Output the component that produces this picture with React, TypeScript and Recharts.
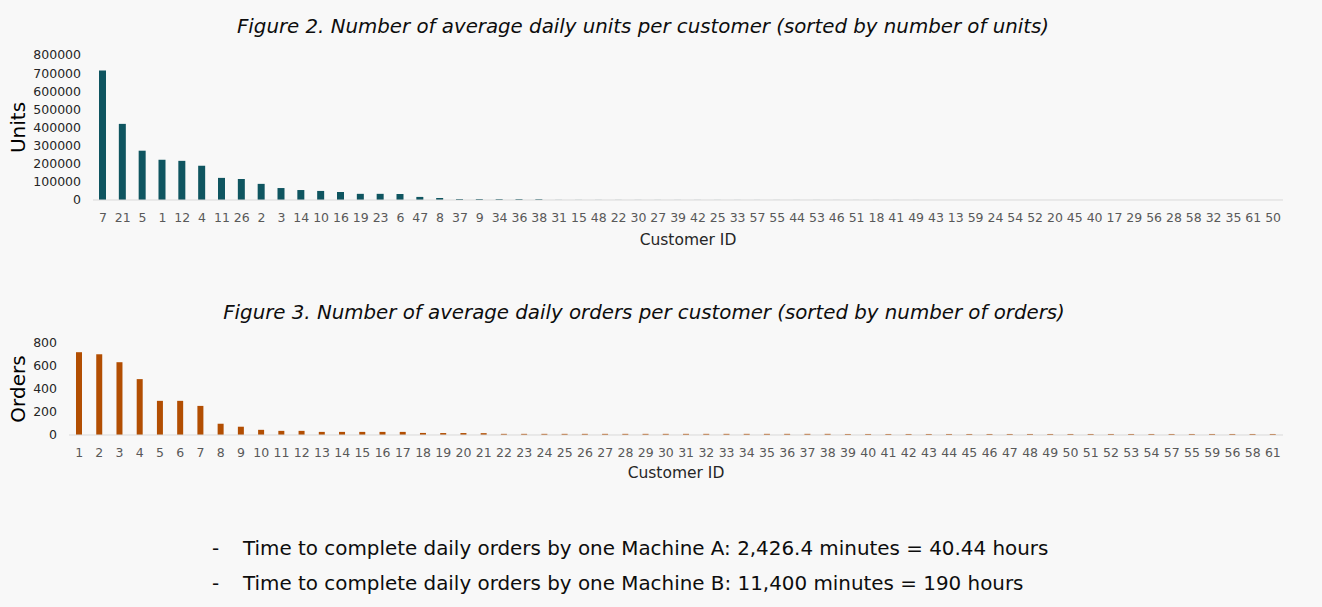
import React from "react";
import { BarChart, Bar, XAxis, YAxis } from "recharts";

// Figure 2: customers sorted by average daily units
const unitCustomers = [
  "7", "21", "5", "1", "12", "4", "11", "26", "2", "3",
  "14", "10", "16", "19", "23", "6", "47", "8", "37", "9",
  "34", "36", "38", "31", "15", "48", "22", "30", "27", "39",
  "42", "25", "33", "57", "55", "44", "53", "46", "51", "18",
  "41", "49", "43", "13", "59", "24", "54", "52", "20", "45",
  "40", "17", "29", "56", "28", "58", "32", "35", "61", "50",
];
const unitValues = [
  715000, 420000, 272000, 222000, 216000, 189000, 122000, 116000, 89000, 66000,
  55000, 50000, 44000, 34000, 34000, 33000, 17000, 11000, 5500, 5500,
  5000, 5000, 4500, 600, 550, 500, 480, 450, 420, 400,
  380, 360, 340, 320, 300, 280, 260, 240, 220, 200,
  190, 180, 170, 160, 150, 140, 130, 120, 110, 100,
  90, 80, 70, 60, 55, 50, 45, 40, 35, 30,
];
const unitTicks = [0, 100000, 200000, 300000, 400000, 500000, 600000, 700000, 800000];

// Figure 3: customers sorted by average daily orders
const orderCustomers = [
  "1", "2", "3", "4", "5", "6", "7", "8", "9", "10",
  "11", "12", "13", "14", "15", "16", "17", "18", "19", "20",
  "21", "22", "23", "24", "25", "26", "27", "28", "29", "30",
  "31", "32", "33", "34", "35", "36", "37", "38", "39", "40",
  "41", "42", "43", "44", "45", "46", "47", "48", "49", "50",
  "51", "52", "53", "54", "57", "55", "59", "56", "58", "61",
];
const orderValues = [
  720, 702, 633, 486, 297, 297, 253, 98, 72, 45,
  36, 36, 27, 27, 27, 27, 27, 18, 17, 17,
  16, 10, 10, 10, 10, 10, 10, 10, 10, 10,
  10, 10, 10, 10, 10, 10, 10, 10, 9, 9,
  9, 9, 9, 9, 9, 9, 9, 9, 9, 9,
  9, 9, 9, 9, 9, 9, 9, 9, 9, 9,
];
const orderTicks = [0, 200, 400, 600, 800];

const notes = [
  "Time to complete daily orders by one Machine A: 2,426.4 minutes = 40.44 hours",
  "Time to complete daily orders by one Machine B: 11,400 minutes = 190 hours",
];

const FONT = "'DejaVu Sans', Verdana, sans-serif";
const TEAL = "#0f5560";
const RUST = "#b24e02";

const unitData = unitCustomers.map((id, i) => ({ id, units: unitValues[i] }));
const orderData = orderCustomers.map((id, i) => ({ id, orders: orderValues[i] }));

const xTick = { fill: "#595959", fontSize: 12.5, fontFamily: FONT };
const yTick = { fill: "#262626", fontSize: 12.5, fontFamily: FONT };

function Title({ text, cx, cy }: { text: string; cx: number; cy: number }) {
  return (
    <div
      style={{
        position: "absolute",
        left: cx,
        top: cy - 12,
        transform: "translateX(-50%)",
        whiteSpace: "nowrap",
        fontFamily: FONT,
        fontStyle: "italic",
        fontSize: 19.8,
        lineHeight: "24px",
        color: "#0d0d0d",
      }}
    >
      {text}
    </div>
  );
}

export default function App() {
  return (
    <div
      style={{
        position: "absolute",
        left: 0,
        top: 0,
        width: 1322,
        height: 607,
        background: "#f8f8f8",
        overflow: "hidden",
      }}
    >
      <Title
        text="Figure 2. Number of average daily units per customer (sorted by number of units)"
        cx={643}
        cy={27}
      />
      <div style={{ position: "absolute", left: 0, top: 40 }}>
        <BarChart
          width={1322}
          height={220}
          data={unitData}
          margin={{ top: 15, right: 39, bottom: 15, left: 0 }}
        >
          <XAxis
            dataKey="id"
            interval={0}
            tickLine={false}
            tickSize={0}
            tickMargin={13}
            height={45}
            axisLine={{ stroke: "#d9d9d9" }}
            tick={xTick}
            label={{
              value: "Customer ID",
              position: "insideBottom",
              offset: 0,
              fill: "#262626",
              fontSize: 15.5,
              fontFamily: FONT,
            }}
          />
          <YAxis
            width={93}
            domain={[0, 800000]}
            ticks={unitTicks}
            interval={0}
            axisLine={false}
            tickLine={false}
            tickSize={0}
            tickMargin={12}
            tick={yTick}
            label={{
              value: "Units",
              angle: -90,
              position: "insideLeft",
              offset: 18,
              fill: "#000",
              fontSize: 20,
              fontFamily: FONT,
              style: { textAnchor: "middle" },
            }}
          />
          <Bar dataKey="units" fill={TEAL} barSize={7} isAnimationActive={false} />
        </BarChart>
      </div>

      <Title
        text="Figure 3. Number of average daily orders per customer (sorted by number of orders)"
        cx={644}
        cy={313}
      />
      <div style={{ position: "absolute", left: 0, top: 330 }}>
        <BarChart
          width={1322}
          height={160}
          data={orderData}
          margin={{ top: 13, right: 39, bottom: 12, left: 0 }}
        >
          <XAxis
            dataKey="id"
            interval={0}
            tickLine={false}
            tickSize={0}
            tickMargin={13}
            height={43}
            axisLine={{ stroke: "#d9d9d9" }}
            tick={xTick}
            label={{
              value: "Customer ID",
              position: "insideBottom",
              offset: 0,
              fill: "#262626",
              fontSize: 15.5,
              fontFamily: FONT,
            }}
          />
          <YAxis
            width={69}
            domain={[0, 800]}
            ticks={orderTicks}
            interval={0}
            axisLine={false}
            tickLine={false}
            tickSize={0}
            tickMargin={12}
            tick={yTick}
            label={{
              value: "Orders",
              angle: -90,
              position: "insideLeft",
              offset: 18,
              fill: "#000",
              fontSize: 20,
              fontFamily: FONT,
              style: { textAnchor: "middle" },
            }}
          />
          <Bar dataKey="orders" fill={RUST} barSize={6} isAnimationActive={false} />
        </BarChart>
      </div>

      {notes.map((t, i) => (
        <div
          key={i}
          style={{
            position: "absolute",
            left: 212,
            top: 549 + i * 35 - 12,
            fontFamily: FONT,
            fontSize: 19.9,
            lineHeight: "24px",
            color: "#0d0d0d",
            whiteSpace: "nowrap",
          }}
        >
          <span style={{ display: "inline-block", width: 31 }}>-</span>
          {t}
        </div>
      ))}
    </div>
  );
}
